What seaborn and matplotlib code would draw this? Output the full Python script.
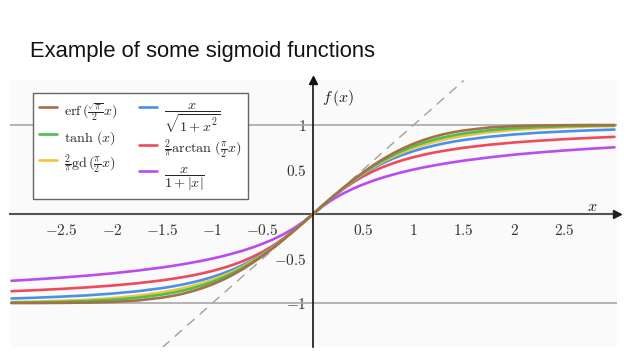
import matplotlib
matplotlib.use("Agg")
import matplotlib.pyplot as plt
import numpy as np
import seaborn as sns
import pandas as pd

# sample points
x = [-3.0, -2.75, -2.5, -2.25, -2.0, -1.75,
     -1.5, -1.4, -1.3, -1.2, -1.1, -1.0, -0.9, -0.8, -0.7, -0.6, -0.5, -0.4, -0.3, -0.2, -0.1,
     0.0,
     0.1, 0.2, 0.3, 0.4, 0.5, 0.6, 0.7, 0.8, 0.9, 1.0, 1.1, 1.2, 1.3, 1.4, 1.5,
     1.75, 2.0, 2.25, 2.5, 2.75, 3.0]

erf_vals = [-1.000, -1.000, -0.998, -0.995, -0.988, -0.972,
            -0.939, -0.920, -0.897, -0.867, -0.832, -0.790, -0.741, -0.684, -0.620, -0.548, -0.469, -0.384, -0.293, -0.198, -0.0997,
            0.0,
            0.0997, 0.198, 0.293, 0.384, 0.469, 0.548, 0.620, 0.684, 0.741, 0.790, 0.832, 0.867, 0.897, 0.920, 0.939,
            0.972, 0.988, 0.995, 0.998, 1.000, 1.000]
tanh_vals = [-0.995, -0.992, -0.987, -0.978, -0.964, -0.941,
             -0.905, -0.885, -0.862, -0.834, -0.801, -0.762, -0.716, -0.664, -0.604, -0.537, -0.462, -0.380, -0.291, -0.197, -0.0997,
             0.0,
             0.0997, 0.197, 0.291, 0.380, 0.462, 0.537, 0.604, 0.664, 0.716, 0.762, 0.801, 0.834, 0.862, 0.885, 0.905,
             0.941, 0.964, 0.978, 0.987, 0.992, 0.995]
gd_vals = [-0.989, -0.983, -0.975, -0.963, -0.945, -0.919,
           -0.880, -0.859, -0.836, -0.808, -0.776, -0.739, -0.696, -0.647, -0.591, -0.527, -0.455, -0.376, -0.290, -0.197, -0.0996,
           0.0,
           0.0996, 0.197, 0.290, 0.376, 0.455, 0.527, 0.591, 0.647, 0.696, 0.739, 0.776, 0.808, 0.836, 0.859, 0.880,
           0.919, 0.945, 0.963, 0.975, 0.983, 0.989]
sqrt_vals = [-0.949, -0.940, -0.928, -0.914, -0.894, -0.868,
             -0.832, -0.814, -0.793, -0.768, -0.740, -0.707, -0.669, -0.625, -0.574, -0.515, -0.447, -0.371, -0.287, -0.196, -0.0995,
             0.0,
             0.0995, 0.196, 0.287, 0.371, 0.447, 0.515, 0.574, 0.625, 0.669, 0.707, 0.740, 0.768, 0.793, 0.814, 0.832,
             0.868, 0.894, 0.914, 0.928, 0.940, 0.949]
arctan_vals = [-0.867, -0.855, -0.841, -0.824, -0.804, -0.778,
               -0.745, -0.728, -0.710, -0.690, -0.666, -0.639, -0.608, -0.572, -0.530, -0.481, -0.424, -0.357, -0.280, -0.194, -0.0992,
               0.0,
               0.0992, 0.194, 0.280, 0.357, 0.424, 0.481, 0.530, 0.572, 0.608, 0.639, 0.666, 0.690, 0.710, 0.728, 0.745,
               0.778, 0.804, 0.824, 0.841, 0.855, 0.867]
abs_vals = [-0.750, -0.733, -0.714, -0.692, -0.667, -0.636,
            -0.600, -0.583, -0.565, -0.545, -0.524, -0.500, -0.474, -0.444, -0.412, -0.375, -0.333, -0.286, -0.231, -0.167, -0.0909,
            0.0,
            0.0909, 0.167, 0.231, 0.286, 0.333, 0.375, 0.412, 0.444, 0.474, 0.500, 0.524, 0.545, 0.565, 0.583, 0.600,
            0.636, 0.667, 0.692, 0.714, 0.733, 0.750]

labels = {
    "erf": r"$\mathrm{erf}\,(\frac{\sqrt{\pi}}{2}x)$",
    "tanh": r"$\tanh\,(x)$",
    "gd": r"$\frac{2}{\pi}\mathrm{gd}\,(\frac{\pi}{2}x)$",
    "sqrt": r"$\dfrac{x}{\sqrt{1+x^2}}$",
    "arctan": r"$\frac{2}{\pi}\arctan\,(\frac{\pi}{2}x)$",
    "abs": r"$\dfrac{x}{1+|x|}$",
}
colors = {"erf": "#a4704a", "tanh": "#4cbf4c", "gd": "#f2c244",
          "sqrt": "#4a90ea", "arctan": "#ee4a5a", "abs": "#b94cf0"}
series = {"erf": erf_vals, "tanh": tanh_vals, "gd": gd_vals,
          "sqrt": sqrt_vals, "arctan": arctan_vals, "abs": abs_vals}

legend_order = ["erf", "tanh", "gd", "sqrt", "arctan", "abs"]
draw_order = ["abs", "arctan", "sqrt", "gd", "tanh", "erf"]

df = pd.concat([pd.DataFrame({"x": x, "y": series[k], "func": k}) for k in draw_order],
               ignore_index=True)

sns.set_style("white")
plt.rcParams["mathtext.fontset"] = "cm"

fig = plt.figure(figsize=(6.38, 3.59), dpi=100)
W, H = 638, 359
ax = fig.add_axes([10 / W, 1 - 347 / H, 607 / W, 267 / H])
ax.set_facecolor("#fafafa")

# asymptotes and identity line
ax.axhline(1, color="#a8a8a8", lw=1.2, zorder=1)
ax.axhline(-1, color="#a8a8a8", lw=1.2, zorder=1)
ax.plot([-1.5, 1.5], [-1.5, 1.5], color="#a0a0a0", lw=1.0, ls=(0, (7, 5)), zorder=1)

sns.lineplot(data=df, x="x", y="y", hue="func", hue_order=draw_order,
             palette=colors, linewidth=1.9, sort=False, ax=ax, zorder=3)

ax.set_xlim(-3.015, 3.025)
ax.set_ylim(-1.494, 1.506)
ax.set_xlabel("")
ax.set_ylabel("")

# axes through the origin
for s in ["top", "right"]:
    ax.spines[s].set_visible(False)
ax.spines["left"].set_position(("data", 0))
ax.spines["bottom"].set_position(("data", 0))
ax.spines["left"].set_color("#111111")
ax.spines["left"].set_linewidth(1.2)
ax.spines["bottom"].set_color("#555555")
ax.spines["bottom"].set_linewidth(1.5)
ax.spines["left"].set_zorder(4)
ax.spines["bottom"].set_zorder(2)

xt = [-2.5, -2, -1.5, -1, -0.5, 0.5, 1, 1.5, 2, 2.5]
yt = [-1, -0.5, 0.5, 1]
ax.set_xticks(xt)
ax.set_xticklabels([r"$%g$" % v for v in xt])
ax.set_yticks(yt)
ax.set_yticklabels([r"$%g$" % v for v in yt])
ax.tick_params(axis="both", direction="inout", length=7, width=1.0,
               labelsize=11, colors="#333333", pad=3)
ax.tick_params(axis="y", pad=1)

# arrow heads
ax.plot(1, 0, ">", color="#222222", ms=6, transform=ax.get_yaxis_transform(),
        clip_on=False, zorder=5)
ax.plot(0, 1.0, "^", color="#111111", ms=6, transform=ax.get_xaxis_transform(),
        clip_on=False, zorder=5)

ax.text(0.09, 1.30, r"$f\,(x)$", fontsize=11.5, ha="left", va="center", color="#222222")
ax.text(2.78, 0.08, r"$x$", fontsize=11.5, ha="center", va="center", color="#222222")

handles, labs = ax.get_legend_handles_labels()
hmap = dict(zip(labs, handles))
leg = ax.legend([hmap[k] for k in legend_order], [labels[k] for k in legend_order],
                ncol=2, loc="upper left", bbox_to_anchor=(33 / W, 1 - 93 / H),
                bbox_transform=fig.transFigure, frameon=True, fancybox=False,
                edgecolor="#666666", facecolor="white", framealpha=1,
                fontsize=10.2, handlelength=1.3, handleheight=2.4, handletextpad=0.5,
                columnspacing=1.5, labelspacing=0.05, borderpad=0.4,
                borderaxespad=0)
leg.get_frame().set_linewidth(1.0)
leg.set_zorder(6)

fig.text(30 / W, 1 - 52 / H, "Example of some sigmoid functions",
         fontsize=15.8, family="Liberation Sans", ha="left", va="center", color="#111111")

fig.savefig("out.png", dpi=100)
